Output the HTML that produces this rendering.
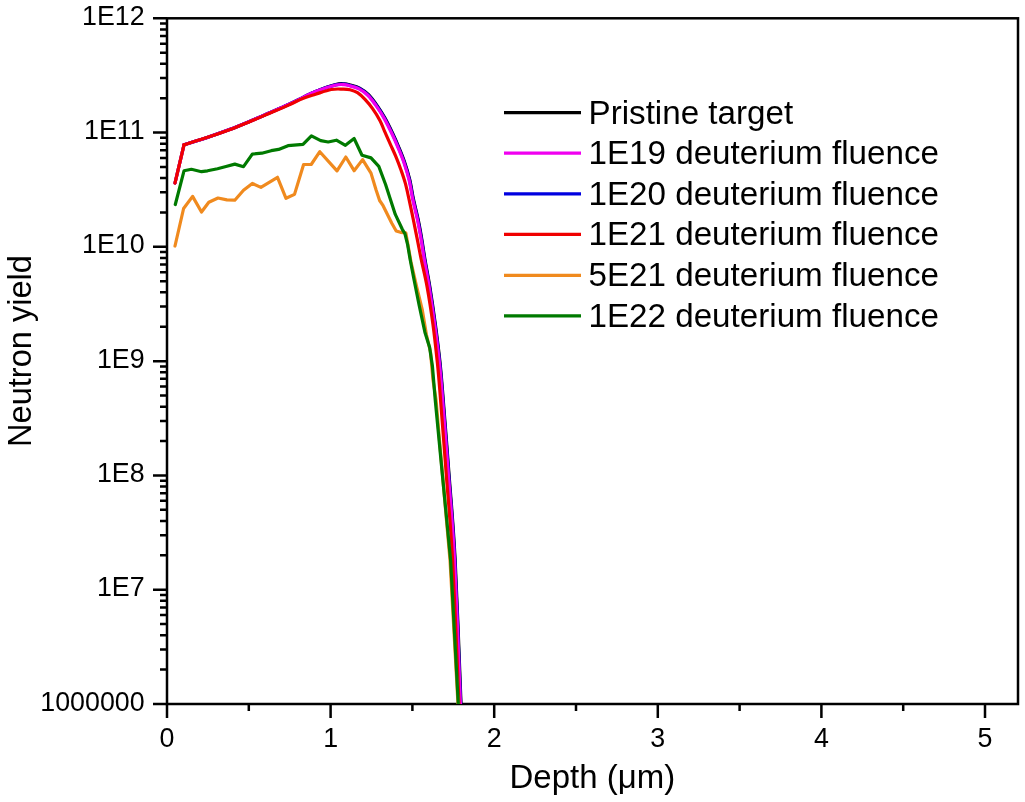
<!DOCTYPE html>
<html><head><meta charset="utf-8"><title>Neutron yield vs depth</title>
<style>
html,body{margin:0;padding:0;background:#fff;}
svg{display:block;}
text{font-family:'Liberation Sans', Arial, sans-serif;fill:#000;}
</style></head>
<body>
<svg width="1025" height="802" viewBox="0 0 1025 802">
<defs><clipPath id="clip"><rect x="167.0" y="18.3" width="851.0" height="685.7"/></clipPath></defs>
<rect width="1025" height="802" fill="#fff"/>
<rect x="167.0" y="18.3" width="851.0" height="685.7" fill="none" stroke="#000" stroke-width="2.5"/>
<path d="M153.00 704.00H167.00M160.00 669.60H167.00M160.00 649.47H167.00M160.00 635.19H167.00M160.00 624.12H167.00M160.00 615.07H167.00M160.00 607.42H167.00M160.00 600.79H167.00M160.00 594.95H167.00M153.00 589.72H167.00M160.00 555.31H167.00M160.00 535.19H167.00M160.00 520.91H167.00M160.00 509.84H167.00M160.00 500.79H167.00M160.00 493.14H167.00M160.00 486.51H167.00M160.00 480.66H167.00M153.00 475.43H167.00M160.00 441.03H167.00M160.00 420.91H167.00M160.00 406.63H167.00M160.00 395.55H167.00M160.00 386.50H167.00M160.00 378.85H167.00M160.00 372.23H167.00M160.00 366.38H167.00M153.00 361.15H167.00M160.00 326.75H167.00M160.00 306.62H167.00M160.00 292.34H167.00M160.00 281.27H167.00M160.00 272.22H167.00M160.00 264.57H167.00M160.00 257.94H167.00M160.00 252.10H167.00M153.00 246.87H167.00M160.00 212.46H167.00M160.00 192.34H167.00M160.00 178.06H167.00M160.00 166.99H167.00M160.00 157.94H167.00M160.00 150.29H167.00M160.00 143.66H167.00M160.00 137.81H167.00M153.00 132.58H167.00M160.00 98.18H167.00M160.00 78.06H167.00M160.00 63.78H167.00M160.00 52.70H167.00M160.00 43.65H167.00M160.00 36.00H167.00M160.00 29.38H167.00M160.00 23.53H167.00M153.00 18.30H167.00M167.00 704.00V718.00M330.60 704.00V718.00M494.20 704.00V718.00M657.80 704.00V718.00M821.40 704.00V718.00M985.00 704.00V718.00M248.80 704.00V711.00M412.40 704.00V711.00M576.00 704.00V711.00M739.60 704.00V711.00M903.20 704.00V711.00" stroke="#000" stroke-width="2.5" fill="none"/>
<text x="144.60" y="24.80" font-size="26.8" text-anchor="end" >1E12</text>
<text x="144.60" y="139.08" font-size="26.8" text-anchor="end" >1E11</text>
<text x="144.60" y="253.37" font-size="26.8" text-anchor="end" >1E10</text>
<text x="144.60" y="367.65" font-size="26.8" text-anchor="end" >1E9</text>
<text x="144.60" y="481.93" font-size="26.8" text-anchor="end" >1E8</text>
<text x="144.60" y="596.22" font-size="26.8" text-anchor="end" >1E7</text>
<text x="144.60" y="710.50" font-size="26.8" text-anchor="end" >1000000</text>
<text x="167.00" y="746.50" font-size="26.8" text-anchor="middle" >0</text>
<text x="330.60" y="746.50" font-size="26.8" text-anchor="middle" >1</text>
<text x="494.20" y="746.50" font-size="26.8" text-anchor="middle" >2</text>
<text x="657.80" y="746.50" font-size="26.8" text-anchor="middle" >3</text>
<text x="821.40" y="746.50" font-size="26.8" text-anchor="middle" >4</text>
<text x="985.00" y="746.50" font-size="26.8" text-anchor="middle" >5</text>
<text transform="translate(509.50,787.80) scale(0.9850,1)" font-size="33.5" text-anchor="start" >Depth (&#956;m)</text>
<text transform="translate(31.0,447) rotate(-90)" font-size="32.6">Neutron yield</text>
<g clip-path="url(#clip)">
<polyline points="175.0,183.0 184.0,144.8" fill="none" stroke="#000000" stroke-width="3.2" stroke-linejoin="round" stroke-linecap="round"/>
<path d="M184.00,144.80C188.33,143.42 202.42,139.03 210.00,136.50C217.58,133.97 223.00,132.07 229.50,129.60C236.00,127.13 242.50,124.42 249.00,121.70C255.50,118.98 262.00,116.12 268.50,113.30C275.00,110.48 282.30,107.42 288.00,104.80C293.70,102.18 298.10,99.84 302.70,97.60C307.30,95.36 310.12,93.56 315.62,91.38C321.12,89.19 330.92,85.76 335.70,84.50C340.48,83.24 341.82,83.70 344.30,83.80C346.78,83.90 348.05,84.38 350.60,85.10C353.15,85.82 356.60,86.50 359.60,88.10C362.60,89.70 365.62,91.70 368.60,94.70C371.58,97.70 374.77,102.20 377.50,106.10C380.23,110.00 382.50,113.62 385.00,118.10C387.50,122.58 390.25,128.27 392.50,133.00C394.75,137.73 396.52,141.75 398.50,146.50C400.48,151.25 402.53,156.02 404.40,161.50C406.27,166.98 408.20,173.17 409.70,179.40C411.20,185.63 412.00,192.27 413.40,198.90C414.80,205.53 416.70,212.48 418.10,219.20C419.50,225.92 420.67,232.57 421.80,239.20C422.93,245.83 423.57,251.10 424.90,259.00C426.23,266.90 428.07,275.77 429.80,286.60C431.53,297.43 433.62,311.55 435.30,324.00C436.98,336.45 438.72,350.43 439.90,361.30C441.08,372.17 440.88,370.38 442.40,389.20C443.92,408.02 446.88,445.87 449.00,474.20C451.12,502.53 453.10,521.03 455.10,559.20C457.10,597.37 460.02,679.20 461.00,703.20" fill="none" stroke="#000000" stroke-width="3.2" stroke-linejoin="round" stroke-linecap="round"/>
<path d="M184.00,144.80C188.33,143.42 202.42,139.03 210.00,136.50C217.58,133.97 223.00,132.07 229.50,129.60C236.00,127.13 242.50,124.42 249.00,121.70C255.50,118.98 262.00,116.12 268.50,113.30C275.00,110.48 282.30,107.42 288.00,104.80C293.70,102.18 298.10,99.84 302.70,97.60C307.30,95.36 310.16,93.50 315.61,91.39C321.06,89.27 330.67,86.10 335.40,84.90C340.13,83.70 341.52,84.10 344.00,84.20C346.48,84.30 347.75,84.78 350.30,85.50C352.85,86.22 356.30,86.90 359.30,88.50C362.30,90.10 365.32,92.10 368.30,95.10C371.28,98.10 374.47,102.60 377.20,106.50C379.93,110.40 382.20,114.02 384.70,118.50C387.20,122.98 389.95,128.67 392.20,133.40C394.45,138.13 396.22,142.15 398.20,146.90C400.18,151.65 402.23,156.42 404.10,161.90C405.97,167.38 407.90,173.57 409.40,179.80C410.90,186.03 411.70,192.67 413.10,199.30C414.50,205.93 416.40,212.88 417.80,219.60C419.20,226.32 420.37,232.97 421.50,239.60C422.63,246.23 423.27,251.50 424.60,259.40C425.93,267.30 427.77,276.17 429.50,287.00C431.23,297.83 433.32,311.95 435.00,324.40C436.68,336.85 438.42,350.83 439.60,361.70C440.78,372.57 440.58,370.78 442.10,389.60C443.62,408.42 446.58,446.27 448.70,474.60C450.82,502.93 452.80,521.43 454.80,559.60C456.80,597.77 459.72,679.60 460.70,703.60" fill="none" stroke="#0000e0" stroke-width="3.2" stroke-linejoin="round" stroke-linecap="round"/>
<polyline points="175.0,183.0 184.0,144.8" fill="none" stroke="#f000f0" stroke-width="3.2" stroke-linejoin="round" stroke-linecap="round"/>
<path d="M184.00,144.80C188.33,143.42 202.42,139.03 210.00,136.50C217.58,133.97 223.00,132.07 229.50,129.60C236.00,127.13 242.50,124.42 249.00,121.70C255.50,118.98 262.00,116.12 268.50,113.30C275.00,110.48 282.30,107.42 288.00,104.80C293.70,102.18 298.10,99.83 302.70,97.60C307.30,95.37 310.20,93.45 315.60,91.40C321.00,89.35 330.42,86.43 335.10,85.30C339.78,84.17 341.22,84.50 343.70,84.60C346.18,84.70 347.45,85.18 350.00,85.90C352.55,86.62 356.00,87.30 359.00,88.90C362.00,90.50 365.02,92.50 368.00,95.50C370.98,98.50 374.17,103.00 376.90,106.90C379.63,110.80 381.90,114.42 384.40,118.90C386.90,123.38 389.65,129.07 391.90,133.80C394.15,138.53 395.92,142.55 397.90,147.30C399.88,152.05 401.93,156.82 403.80,162.30C405.67,167.78 407.60,173.97 409.10,180.20C410.60,186.43 411.40,193.07 412.80,199.70C414.20,206.33 416.10,213.28 417.50,220.00C418.90,226.72 420.07,233.37 421.20,240.00C422.33,246.63 422.97,251.90 424.30,259.80C425.63,267.70 427.47,276.57 429.20,287.40C430.93,298.23 433.02,312.35 434.70,324.80C436.38,337.25 438.12,351.23 439.30,362.10C440.48,372.97 440.28,371.18 441.80,390.00C443.32,408.82 446.28,446.67 448.40,475.00C450.52,503.33 452.50,521.83 454.50,560.00C456.50,598.17 459.42,680.00 460.40,704.00" fill="none" stroke="#f000f0" stroke-width="3.2" stroke-linejoin="round" stroke-linecap="round"/>
<polyline points="175.0,183.0 184.0,144.8" fill="none" stroke="#f00000" stroke-width="3.2" stroke-linejoin="round" stroke-linecap="round"/>
<path d="M184.00,144.80C188.33,143.43 202.42,139.10 210.00,136.60C217.58,134.10 223.00,132.23 229.50,129.80C236.00,127.37 242.50,124.68 249.00,122.00C255.50,119.32 262.00,116.47 268.50,113.70C275.00,110.93 282.30,107.93 288.00,105.40C293.70,102.87 298.10,100.37 302.70,98.50C307.30,96.63 310.85,95.70 315.60,94.20C320.35,92.70 326.65,90.35 331.20,89.50C335.75,88.65 339.77,89.07 342.90,89.10C346.03,89.13 347.57,89.10 350.00,89.70C352.43,90.30 355.00,91.08 357.50,92.70C360.00,94.32 362.52,96.78 365.00,99.40C367.48,102.02 369.92,104.90 372.40,108.40C374.88,111.90 377.90,116.65 379.90,120.40C381.90,124.15 382.65,126.92 384.40,130.90C386.15,134.88 388.40,139.82 390.40,144.30C392.40,148.78 394.65,153.57 396.40,157.80C398.15,162.03 399.42,165.47 400.90,169.70C402.38,173.93 403.93,178.20 405.30,183.20C406.67,188.20 407.75,193.57 409.10,199.70C410.45,205.83 412.02,213.30 413.40,220.00C414.78,226.70 416.08,233.27 417.40,239.90C418.72,246.53 419.67,251.88 421.30,259.80C422.93,267.72 425.25,276.57 427.20,287.40C429.15,298.23 431.32,312.35 433.00,324.80C434.68,337.25 436.17,351.23 437.30,362.10C438.43,372.97 438.30,371.18 439.80,390.00C441.30,408.82 444.17,446.67 446.30,475.00C448.43,503.33 450.48,521.83 452.60,560.00C454.72,598.17 457.93,680.00 459.00,704.00" fill="none" stroke="#f00000" stroke-width="3.2" stroke-linejoin="round" stroke-linecap="round"/>
<polyline points="175.0,246.0 183.6,208.5 192.6,196.4 201.5,212.0 208.8,202.2 218.0,198.0 226.9,199.9 234.8,200.2 243.5,190.3 252.3,183.4 260.9,187.4 277.5,177.3 286.0,198.3 294.5,194.4 303.6,164.5 311.2,164.5 319.8,151.7 337.0,170.9 345.8,157.0 354.1,170.7 362.6,159.6 371.0,173.1 376.1,190.0 379.6,200.5 383.1,205.7 391.8,223.2 396.2,231.0 400.5,232.3 405.8,232.8 411.0,262.0 416.8,287.4 422.3,310.0 426.5,335.0 430.5,352.0 433.0,380.0 436.0,399.5 442.5,475.0 450.0,560.0 458.0,704.0" fill="none" stroke="#f08a1e" stroke-width="3.2" stroke-linejoin="round" stroke-linecap="round"/>
<polyline points="175.3,204.5 184.0,170.8 191.4,169.3 201.5,171.7 207.5,170.8 217.5,168.7 226.0,166.5 234.8,164.1 243.5,166.7 252.3,154.1 261.8,153.2 271.2,150.7 278.6,149.4 288.0,145.7 303.0,144.4 311.4,135.8 320.7,140.7 328.2,142.0 336.4,140.2 345.4,145.3 354.1,138.5 362.0,155.2 371.0,157.9 378.8,166.4 385.5,184.3 395.3,214.4 402.3,229.3 404.9,233.6 407.5,244.1 410.2,259.8 413.7,278.0 419.3,306.0 424.9,332.2 429.6,347.2 432.4,365.9 435.2,399.5 442.4,475.0 450.6,560.0 458.3,704.0" fill="none" stroke="#007a00" stroke-width="3.2" stroke-linejoin="round" stroke-linecap="round"/>
</g>
<line x1="504.0" y1="112.7" x2="581.0" y2="112.7" stroke="#000000" stroke-width="3.2"/>
<text transform="translate(588.50,123.70) scale(0.9910,1)" font-size="33.5" text-anchor="start" >Pristine target</text>
<line x1="504.0" y1="153.2" x2="581.0" y2="153.2" stroke="#f000f0" stroke-width="3.2"/>
<text transform="translate(588.50,164.20) scale(0.9910,1)" font-size="33.5" text-anchor="start" >1E19 deuterium fluence</text>
<line x1="504.0" y1="193.8" x2="581.0" y2="193.8" stroke="#0000e0" stroke-width="3.2"/>
<text transform="translate(588.50,204.80) scale(0.9910,1)" font-size="33.5" text-anchor="start" >1E20 deuterium fluence</text>
<line x1="504.0" y1="234.4" x2="581.0" y2="234.4" stroke="#f00000" stroke-width="3.2"/>
<text transform="translate(588.50,245.40) scale(0.9910,1)" font-size="33.5" text-anchor="start" >1E21 deuterium fluence</text>
<line x1="504.0" y1="275.3" x2="581.0" y2="275.3" stroke="#f08a1e" stroke-width="3.2"/>
<text transform="translate(588.50,286.30) scale(0.9910,1)" font-size="33.5" text-anchor="start" >5E21 deuterium fluence</text>
<line x1="504.0" y1="315.8" x2="581.0" y2="315.8" stroke="#007a00" stroke-width="3.2"/>
<text transform="translate(588.50,326.80) scale(0.9910,1)" font-size="33.5" text-anchor="start" >1E22 deuterium fluence</text>
</svg>
</body></html>
